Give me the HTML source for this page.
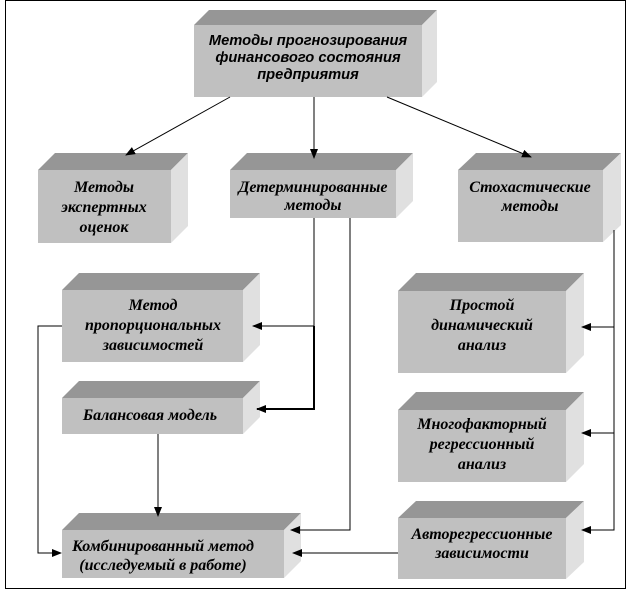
<!DOCTYPE html>
<html><head><meta charset="utf-8"><style>
html,body{margin:0;padding:0;background:#fff;}
svg{display:block}
.t{font-family:"Liberation Serif",serif;font-weight:bold;font-style:italic;font-size:16px;text-anchor:middle;fill:#000}
.s{font-family:"Liberation Sans",sans-serif;font-weight:bold;font-style:italic;font-size:14.7px;text-anchor:middle;fill:#000}
</style></head><body>
<svg width="627" height="591" viewBox="0 0 627 591" xmlns="http://www.w3.org/2000/svg">
<defs>
<marker id="a" markerWidth="10" markerHeight="8" refX="9" refY="4" orient="auto" markerUnits="userSpaceOnUse">
<path d="M0,0 L10,4 L0,8 z" fill="#000"/></marker>
</defs>
<rect x="5.5" y="0.5" width="620" height="588" fill="none" stroke="#000"/>
<g id="boxes">
<polygon points="194,25 209,10 437,10 422,25" fill="#969696"/>
<polygon points="422,25 437,10 437,82 422,97" fill="#e0e0e0"/>
<rect x="194" y="25" width="228" height="72" fill="#c0c0c0"/>
<polygon points="38,170 55,153 188,153 171,170" fill="#969696"/>
<polygon points="171,170 188,153 188,226 171,243" fill="#e0e0e0"/>
<rect x="38" y="170" width="133" height="73" fill="#c0c0c0"/>
<polygon points="230,170 247,153 413,153 396,170" fill="#969696"/>
<polygon points="396,170 413,153 413,201 396,218" fill="#e0e0e0"/>
<rect x="230" y="170" width="166" height="48" fill="#c0c0c0"/>
<polygon points="458,170 476,153 621,153 603,170" fill="#969696"/>
<polygon points="603,170 621,153 621,225 603,242" fill="#e0e0e0"/>
<rect x="458" y="170" width="145" height="72" fill="#c0c0c0"/>
<polygon points="62,290 79,273 260,273 243,290" fill="#969696"/>
<polygon points="243,290 260,273 260,345 243,362" fill="#e0e0e0"/>
<rect x="62" y="290" width="181" height="72" fill="#c0c0c0"/>
<polygon points="62,398 79,381 260,381 243,398" fill="#969696"/>
<polygon points="243,398 260,381 260,417 243,434" fill="#e0e0e0"/>
<rect x="62" y="398" width="181" height="36" fill="#c0c0c0"/>
<polygon points="62,530 79,513 301,513 284,530" fill="#969696"/>
<polygon points="284,530 301,513 301,561 284,578" fill="#e0e0e0"/>
<rect x="62" y="530" width="222" height="48" fill="#c0c0c0"/>
<polygon points="398,291 416,273 584,273 566,291" fill="#969696"/>
<polygon points="566,291 584,273 584,355 566,373" fill="#e0e0e0"/>
<rect x="398" y="291" width="168" height="82" fill="#c0c0c0"/>
<polygon points="398,410 416,392 584,392 566,410" fill="#969696"/>
<polygon points="566,410 584,392 584,464 566,482" fill="#e0e0e0"/>
<rect x="398" y="410" width="168" height="72" fill="#c0c0c0"/>
<polygon points="398,518 416,501 584,501 566,518" fill="#969696"/>
<polygon points="566,518 584,501 584,562 566,579" fill="#e0e0e0"/>
<rect x="398" y="518" width="168" height="61" fill="#c0c0c0"/>
</g>
<g stroke="#000" stroke-width="1" fill="none">
<line x1="230" y1="97" x2="126" y2="155" marker-end="url(#a)"/>
<line x1="314" y1="97" x2="314" y2="158" marker-end="url(#a)"/>
<line x1="387" y1="97" x2="531" y2="157" marker-end="url(#a)"/>
<polyline points="314,218 314,326 253,326" marker-end="url(#a)"/>
<polyline points="314,326 314,409 257,409" stroke-width="2" marker-end="url(#a)"/>
<polyline points="350,218 350,530 291,530" marker-end="url(#a)"/>
<polyline points="398,553 293,553" marker-end="url(#a)"/>
<polyline points="158,434 158,516" marker-end="url(#a)"/>
<polyline points="62,326 38,326 38,553 61,553" marker-end="url(#a)"/>
<polyline points="614,230 614,530 582,530" marker-end="url(#a)"/>
<line x1="614" y1="327" x2="582" y2="327" marker-end="url(#a)"/>
<line x1="614" y1="433" x2="582" y2="433" marker-end="url(#a)"/>
</g>
<text class="s" x="308" y="45">Методы прогнозирования</text>
<text class="s" x="308" y="62">финансового состояния</text>
<text class="s" x="308" y="79">предприятия</text>
<text class="t" x="104" y="192">Методы</text>
<text class="t" x="104" y="212">экспертных</text>
<text class="t" x="104" y="232">оценок</text>
<text class="t" x="313" y="192">Детерминированные</text>
<text class="t" x="313" y="210">методы</text>
<text class="t" x="530" y="192">Стохастические</text>
<text class="t" x="530" y="211">методы</text>
<text class="t" x="153" y="310">Метод</text>
<text class="t" x="153" y="330">пропорциональных</text>
<text class="t" x="153" y="350">зависимостей</text>
<text class="t" x="150" y="420">Балансовая модель</text>
<text class="t" x="163" y="551">Комбинированный метод</text>
<text class="t" x="163" y="570">(исследуемый в  работе)</text>
<text class="t" x="482" y="310">Простой</text>
<text class="t" x="482" y="330">динамический</text>
<text class="t" x="482" y="350">анализ</text>
<text class="t" x="482" y="429">Многофакторный</text>
<text class="t" x="482" y="449">регрессионный</text>
<text class="t" x="482" y="469">анализ</text>
<text class="t" x="482" y="539">Авторегрессионные</text>
<text class="t" x="482" y="558">зависимости</text>
</svg>
</body></html>
